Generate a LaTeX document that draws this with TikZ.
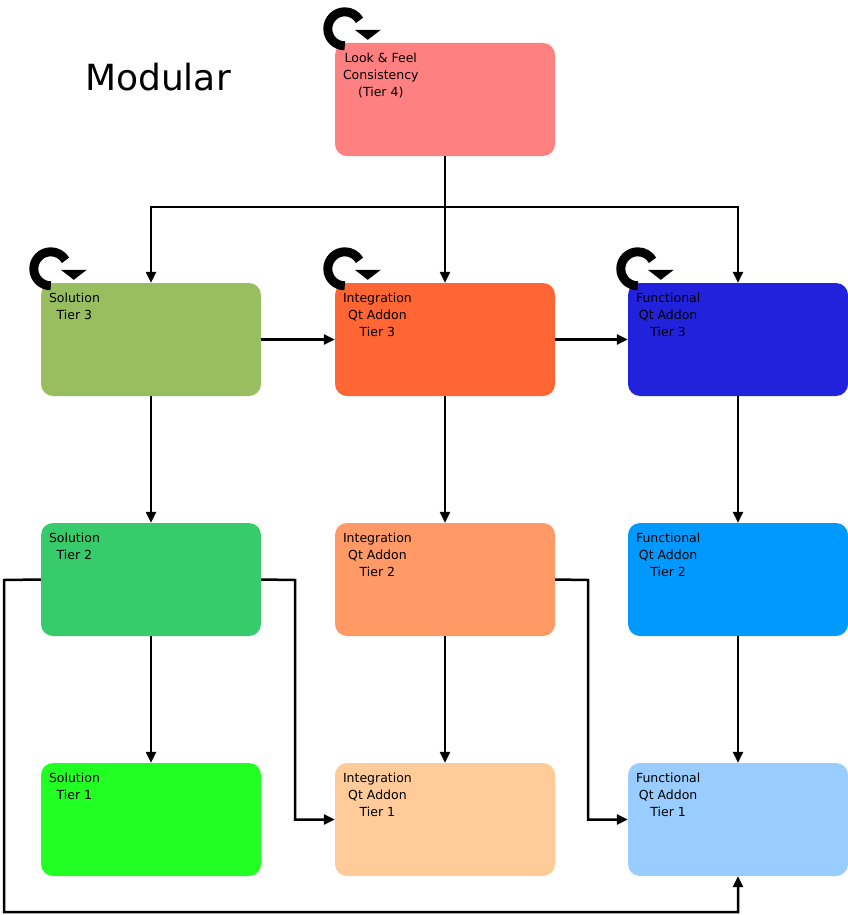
\documentclass[tikz,border=0pt]{standalone}
\usepackage{fontspec}
\setmainfont{DejaVu Sans}
\usetikzlibrary{arrows.meta,calc}
\definecolor{cLook}{HTML}{FF8080}
\definecolor{cSolC}{HTML}{98BE5F}
\definecolor{cIntC}{HTML}{FF6633}
\definecolor{cFunC}{HTML}{2222DD}
\definecolor{cSolB}{HTML}{37CB6B}
\definecolor{cIntB}{HTML}{FF9966}
\definecolor{cFunB}{HTML}{0099FF}
\definecolor{cSolA}{HTML}{22FF22}
\definecolor{cIntA}{HTML}{FFCC99}
\definecolor{cFunA}{HTML}{99CCFF}
\tikzset{
  tierbox/.style={rounded corners=12pt, minimum width=220pt, minimum height=113pt, inner sep=0pt},
  tiertext/.style={anchor=north west, align=center, font=\fontsize{12.5}{17}\selectfont, inner sep=0pt},
  link/.style={line width=2.5pt, -{Triangle[length=11pt,width=10pt]}},
  plain/.style={line width=2.5pt},
}
% self-loop at the top left corner of a box
\newcommand\selfloop[1]{%
  \draw[line width=9pt] ($(#1.north west)+(10pt,-3pt)$) arc[start angle=-90, end angle=-330, radius=17pt];
  \fill ($(#1.north west)+(33pt,3pt)$) -- ++(-13pt,10pt) -- ++(26pt,0) -- cycle;}
\newcommand\tier[5]{% name, x, y, colour, text
  \node[tierbox, fill=#4] (#1) at (#2, #3) {};
  \node[tiertext] (#1-t) at ($(#1.north west)+(8pt,-10pt)$) {#5};}
\begin{document}
\begin{tikzpicture}[x=1pt, y=-1pt]
  \useasboundingbox (0,0) rectangle (848,915);

  \node[font=\fontsize{36}{40}\selectfont] (title) at (158,77) {Modular};

  \tier{look}{445}{99.5}{cLook}{Look \& Feel\\Consistency\\(Tier 4)}

  \tier{solC}{151}{339.5}{cSolC}{Solution\\Tier 3}
  \tier{intC}{445}{339.5}{cIntC}{Integration\\Qt Addon\\Tier 3}
  \tier{funC}{738}{339.5}{cFunC}{Functional\\Qt Addon\\Tier 3}

  \tier{solB}{151}{579.5}{cSolB}{Solution\\Tier 2}
  \tier{intB}{445}{579.5}{cIntB}{Integration\\Qt Addon\\Tier 2}
  \tier{funB}{738}{579.5}{cFunB}{Functional\\Qt Addon\\Tier 2}

  \tier{solA}{151}{819.5}{cSolA}{Solution\\Tier 1}
  \tier{intA}{445}{819.5}{cIntA}{Integration\\Qt Addon\\Tier 1}
  \tier{funA}{738}{819.5}{cFunA}{Functional\\Qt Addon\\Tier 1}

  \selfloop{look}
  \selfloop{solC}
  \selfloop{intC}
  \selfloop{funC}

  % tier 4 fan out
  \coordinate (split) at (445,207);
  \draw[link] (look.south) -- (intC.north);
  \draw[link] (split) -| (solC.north);
  \draw[link] (split) -| (funC.north);

  % across tier 3
  \draw[link] (solC.east) -- (intC.west);
  \draw[link] (intC.east) -- (funC.west);

  % down the columns
  \draw[link] (solC.south) -- (solB.north);
  \draw[link] (intC.south) -- (intB.north);
  \draw[link] (funC.south) -- (funB.north);
  \draw[link] (solB.south) -- (solA.north);
  \draw[link] (intB.south) -- (intA.north);
  \draw[link] (funB.south) -- (funA.north);

  % side routes
  \coordinate (solTurn) at (295,580);
  \coordinate (intTurn) at (588,580);
  \draw[link] (solB.east) -- (solTurn) |- (intA.west);
  \draw[link] (intB.east) -- (intTurn) |- (funA.west);
  \coordinate (leftTurn) at (4,580);
  \coordinate (baseTurn) at (4,912);
  \draw[link] (solB.west) -- (leftTurn) -- (baseTurn) -| (funA.south);
\end{tikzpicture}
\end{document}
